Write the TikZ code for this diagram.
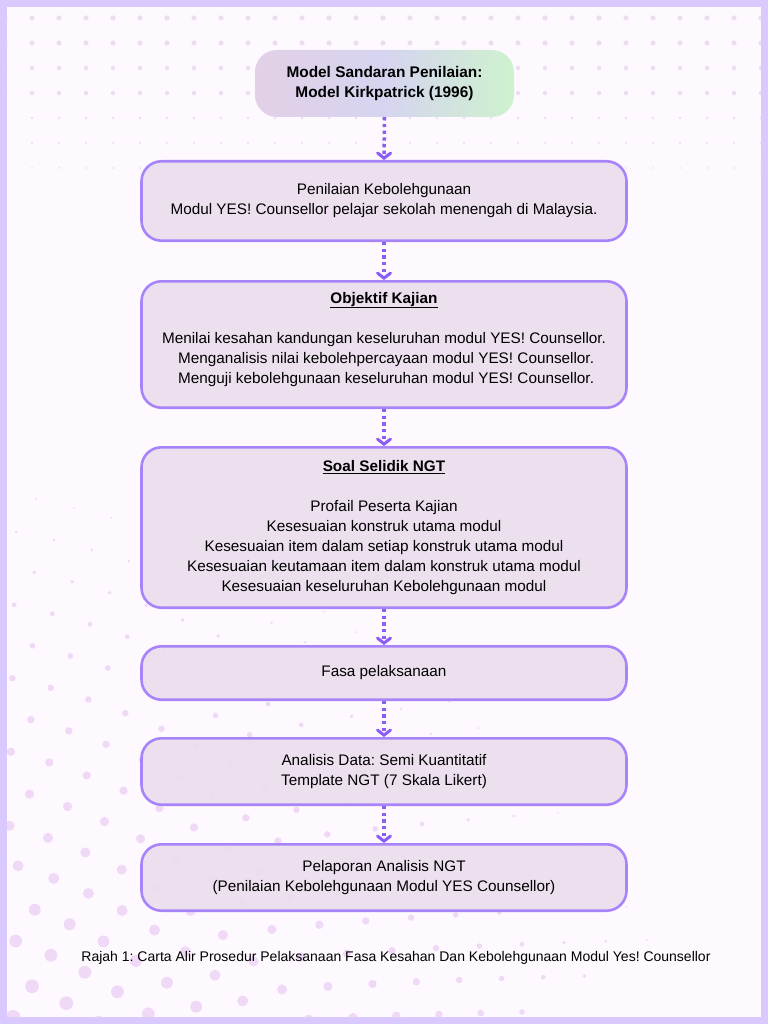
\documentclass[tikz,border=0pt]{standalone}
\usepackage{fontspec}
\setmainfont{Liberation Sans}
\usetikzlibrary{arrows.meta}
\definecolor{frame}{RGB}{217,201,255}
\definecolor{paper}{RGB}{254,249,254}
\definecolor{gdot}{RGB}{236,222,240}
\definecolor{hdot}{RGB}{233,204,243}
\definecolor{boxfill}{RGB}{235,222,238}
\definecolor{boxline}{RGB}{168,132,250}
\definecolor{arrowc}{RGB}{139,92,246}
\definecolor{tl}{RGB}{226,208,230}
\definecolor{tm}{RGB}{214,212,240}
\definecolor{tr}{RGB}{206,242,206}
\tikzset{
  stepbox/.style={draw=boxline, line width=2.6pt, fill=boxfill, fill opacity=0.9, text opacity=1,
    rounded corners=20pt, minimum width=485pt, align=center, inner sep=0pt,
    font=\fontsize{15.3}{20}\selectfont},
  headbox/.style={rounded corners=22pt, left color=tl, right color=tr, middle color=tm,
    minimum width=259pt, minimum height=67pt, align=center, inner sep=0pt,
    font=\fontsize{15.4}{20}\selectfont\bfseries},
  flow/.style={draw=arrowc, line width=3.5pt, dash pattern=on 3.3pt off 3.4pt,
    -{Straight Barb[length=5pt,width=13pt,line width=3pt,line cap=round]}},
  caption/.style={font=\fontsize{14}{16}\selectfont, inner sep=0pt}
}
\frenchspacing
\begin{document}
\begin{tikzpicture}[x=1pt,y=-1pt]
\useasboundingbox (0,0) rectangle (768,1024);
% frame and paper
\fill[frame] (0,0) rectangle (768,1024);
\fill[paper] (7,7) rectangle (761,1017);
% background dots
\begin{scope}
\clip (7,7) rectangle (761,1017);
\foreach \yy/\rr in {18/2.6,43/2.6,68/2.2,93/2.2,118/1.4,143/1.2,168/1.0}{
  \foreach \k in {0,...,28}{
    \fill[gdot] (5+27*\k,\yy) circle[radius=\rr];
  }
}
\foreach \r [count=\j] in {380,416,...,920}{
  \pgfmathtruncatemacro\n{\r/40}
  \pgfmathsetmacro\s{max(0.8,12.5-0.0125*\r)}
  \pgfmathsetmacro\off{mod(\j,2)*0.5}
  \foreach \i in {0,...,\n}{
    \pgfmathsetmacro\a{30+58*(\i+\off)/(\n+1)}
    \fill[hdot, opacity=0.7] ({-150+\r*cos(\a)},{1400-\r*sin(\a)}) circle[radius=\s];
  }
}
\end{scope}
% nodes
\node[headbox] (top) at (384.5,83.5) {Model Sandaran Penilaian:\\Model Kirkpatrick (1996)};
\node[stepbox, minimum height=79.4pt] (b1) at (384,201)
  {Penilaian Kebolehgunaan\\Modul YES! Counsellor pelajar sekolah menengah di Malaysia.};
\node[stepbox, minimum height=126.4pt] (b2) at (384,344.5)
  {\underline{\textbf{Objektif Kajian}}\\[20pt]
   Menilai kesahan kandungan keseluruhan modul YES! Counsellor.\\
   \ Menganalisis nilai kebolehpercayaan modul YES! Counsellor.\\
   \ Menguji kebolehgunaan keseluruhan modul YES! Counsellor.\\[-6pt]\mbox{}};
\node[stepbox, minimum height=160.4pt] (b3) at (384,527.5)
  {\underline{\textbf{Soal Selidik NGT}}\\[20pt]
   Profail Peserta Kajian\\
   Kesesuaian konstruk utama modul\\
   Kesesuaian item dalam setiap konstruk utama modul\\
   Kesesuaian keutamaan item dalam konstruk utama modul\\
   Kesesuaian keseluruhan Kebolehgunaan modul};
\node[stepbox, minimum height=53.4pt] (b4) at (384,673) {Fasa pelaksanaan};
\node[stepbox, minimum height=66.4pt] (b5) at (384,771.5)
  {Analisis Data: Semi Kuantitatif\\Template NGT (7 Skala Likert)};
\node[stepbox, minimum height=66.4pt] (b6) at (384,877.5)
  {Pelaporan Analisis NGT\\(Penilaian Kebolehgunaan Modul YES Counsellor)};
\node[caption] (cap) at (396,958)
  {Rajah 1: Carta Alir Prosedur Pelaksanaan Fasa Kesahan Dan Kebolehgunaan Modul Yes! Counsellor};
% connectors
\draw[flow] (top.south) -- (b1.north);
\draw[flow] (b1.south) -- (b2.north);
\draw[flow] (b2.south) -- (b3.north);
\draw[flow] (b3.south) -- (b4.north);
\draw[flow] (b4.south) -- (b5.north);
\draw[flow] (b5.south) -- (b6.north);
\end{tikzpicture}
\end{document}
